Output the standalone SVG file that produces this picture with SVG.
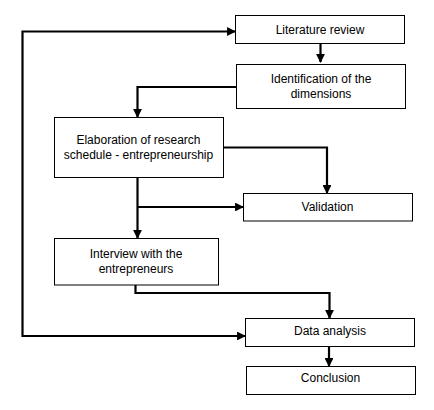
<svg xmlns="http://www.w3.org/2000/svg" width="434" height="410" viewBox="0 0 434 410">
<style>
.box{fill:#fff;stroke:#000;stroke-width:1}
.t{font-family:"Liberation Sans",Arial,sans-serif;font-size:12px;fill:#000;text-anchor:middle}
.c{fill:none;stroke:#000;stroke-width:2.2;stroke-linejoin:miter}
</style>
<defs>
<marker id="ah" viewBox="0 0 10 10" refX="9" refY="5" markerWidth="4" markerHeight="4" orient="auto-start-reverse" markerUnits="strokeWidth">
<path d="M0,0 L10,5 L0,10 z" fill="#000"/>
</marker>
</defs>
<rect width="434" height="410" fill="#fff"/>
<g id="connectors">
<path class="c" d="M320.5,43.5 V62" marker-end="url(#ah)"/>
<path class="c" d="M236,87 H137.5 V117" marker-end="url(#ah)"/>
<path class="c" d="M223,147.5 H327 V193" marker-end="url(#ah)"/>
<path class="c" d="M137.5,177.5 V238" marker-end="url(#ah)"/>
<path class="c" d="M137.5,207 H243" marker-end="url(#ah)"/>
<path class="c" d="M135.5,285 V293 H329.5 V318" marker-end="url(#ah)"/>
<path class="c" d="M329,346.5 V366" marker-end="url(#ah)"/>
<path class="c" d="M235,31.5 H22.5 V336 H245" marker-start="url(#ah)" marker-end="url(#ah)"/>
</g>
<g id="literature">
<rect class="box" x="235.5" y="15.5" width="169" height="28"/>
<text class="t" x="320" y="33.5">Literature review</text>
</g>
<g id="identification">
<rect class="box" x="236.5" y="64.5" width="169" height="44"/>
<text class="t" x="321" y="83">Identification of the</text>
<text class="t" x="321" y="97.5">dimensions</text>
</g>
<g id="elaboration">
<rect class="box" x="54.5" y="117.5" width="169" height="60"/>
<text class="t" x="138.5" y="143.5">Elaboration of research</text>
<text class="t" x="138.5" y="158.5">schedule - entrepreneurship</text>
</g>
<g id="validation">
<rect class="box" x="243.5" y="193.5" width="169" height="27.5"/>
<text class="t" x="327.5" y="211">Validation</text>
</g>
<g id="interview">
<rect class="box" x="54.5" y="238.5" width="164" height="46.5"/>
<text class="t" x="136" y="257.5">Interview with the</text>
<text class="t" x="136" y="272.5">entrepreneurs</text>
</g>
<g id="data-analysis">
<rect class="box" x="245.5" y="318.5" width="169" height="28"/>
<text class="t" x="330" y="334.5">Data analysis</text>
</g>
<g id="conclusion">
<rect class="box" x="246.5" y="366.5" width="169" height="28"/>
<text class="t" x="330.5" y="381.5">Conclusion</text>
</g>
</svg>
